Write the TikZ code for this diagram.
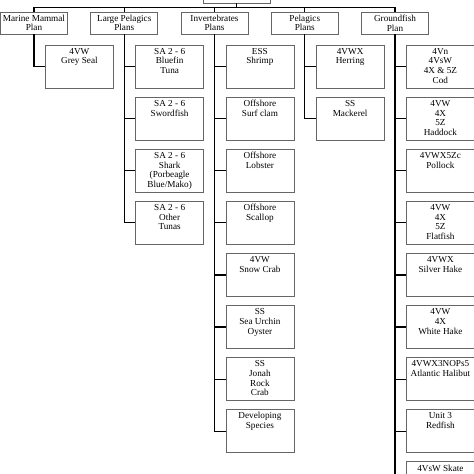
\documentclass[tikz,border=0pt]{standalone}
\usepackage{fontspec}
\setmainfont{Liberation Serif}
\usepackage{tikz}
\usetikzlibrary{positioning}
\definecolor{boxgray}{HTML}{666666}
\newcommand{\cellbox}[1]{\parbox[t][38pt][t]{66pt}{\centering\strut#1}}

\begin{document}
\begin{tikzpicture}[x=1pt, y=-1pt,
    every node/.style={font=\fontsize{9.2}{9.7}\selectfont},
    plan/.style={draw=boxgray, line width=0.8pt, minimum width=67pt, minimum height=22pt, inner sep=0pt, align=center},
    stock/.style={draw=boxgray, line width=0.8pt, inner xsep=1pt, inner ysep=2.5pt, anchor=north west},
    link/.style={line width=1.2pt}]
  \clip (0,0) rectangle (474,474);

  % plans
  \node[plan] (top) at (236.5,-8) {};
  \node[plan] (mm) at (34,23) {Marine Mammal\\Plan};
  \node[plan] (lp) at (124.25,23) {Large Pelagics\\Plans};
  \node[plan] (inv) at (214.5,23) {Invertebrates\\Plans};
  \node[plan] (pel) at (304.75,23) {Pelagics\\Plans};
  \node[plan] (gf) at (395,23) {Groundfish\\Plan};

  % marine mammal
  \node[stock] (mm1) at (45,44.6) {\cellbox{4VW\\Grey Seal}};

  % large pelagics
  \node[stock] (lp1) at (135.25,44.6) {\cellbox{SA 2 - 6\\Bluefin\\Tuna}};
  \node[stock, below=8.3pt of lp1] (lp2) {\cellbox{SA 2 - 6\\Swordfish}};
  \node[stock, below=8.3pt of lp2] (lp3) {\cellbox{SA 2 - 6\\Shark\\(Porbeagle\\Blue/Mako)}};
  \node[stock, below=8.3pt of lp3] (lp4) {\cellbox{SA 2 - 6\\Other\\Tunas}};

  % invertebrates
  \node[stock] (inv1) at (225.5,44.6) {\cellbox{ESS\\Shrimp}};
  \node[stock, below=8.3pt of inv1] (inv2) {\cellbox{Offshore\\Surf clam}};
  \node[stock, below=8.3pt of inv2] (inv3) {\cellbox{Offshore\\Lobster}};
  \node[stock, below=8.3pt of inv3] (inv4) {\cellbox{Offshore\\Scallop}};
  \node[stock, below=8.3pt of inv4] (inv5) {\cellbox{4VW\\Snow Crab}};
  \node[stock, below=8.3pt of inv5] (inv6) {\cellbox{SS\\Sea Urchin\\Oyster}};
  \node[stock, below=8.3pt of inv6] (inv7) {\cellbox{SS\\Jonah\\Rock\\Crab}};
  \node[stock, below=8.3pt of inv7] (inv8) {\cellbox{Developing\\Species}};

  % pelagics
  \node[stock] (pel1) at (315.75,44.6) {\cellbox{4VWX\\Herring}};
  \node[stock, below=8.3pt of pel1] (pel2) {\cellbox{SS\\Mackerel}};

  % groundfish
  \node[stock] (gf1) at (406,44.6) {\cellbox{4Vn\\4VsW\\4X \& 5Z\\Cod}};
  \node[stock, below=8.3pt of gf1] (gf2) {\cellbox{4VW\\4X\\5Z\\Haddock}};
  \node[stock, below=8.3pt of gf2] (gf3) {\cellbox{4VWX5Zc\\Pollock}};
  \node[stock, below=8.3pt of gf3] (gf4) {\cellbox{4VW\\4X\\5Z\\Flatfish}};
  \node[stock, below=8.3pt of gf4] (gf5) {\cellbox{4VWX\\Silver Hake}};
  \node[stock, below=8.3pt of gf5] (gf6) {\cellbox{4VW\\4X\\White Hake}};
  \node[stock, below=8.3pt of gf6] (gf7) {\cellbox{4VWX3NOPs5\\Atlantic Halibut}};
  \node[stock, below=8.3pt of gf7] (gf8) {\cellbox{Unit 3\\Redfish}};
  \node[stock, below=8.3pt of gf8] (gf9) {\cellbox{4VsW Skate}};

  % connectors
  \draw[link] (top.south) -- ++(0,4) coordinate (bar);
  \draw[link] (mm.north) -- (mm.north |- bar) -- (gf.north |- bar) -- (gf.north);
  \foreach \p in {lp, inv, pel}
    \draw[link] (\p.north) -- (\p.north |- bar);
  \draw[link] (mm.south) |- (mm1.west);
  \foreach \i in {1,...,4}
    \draw[link] (lp.south) |- (lp\i.west);
  \foreach \i in {1,...,8}
    \draw[link] (inv.south) |- (inv\i.west);
  \foreach \i in {1,2}
    \draw[link] (pel.south) |- (pel\i.west);
  \foreach \i in {1,...,8}
    \draw[link] (gf.south) |- (gf\i.west);
  \draw[link] (gf.south) -- (gf.south |- gf9.south);
\end{tikzpicture}
\end{document}
